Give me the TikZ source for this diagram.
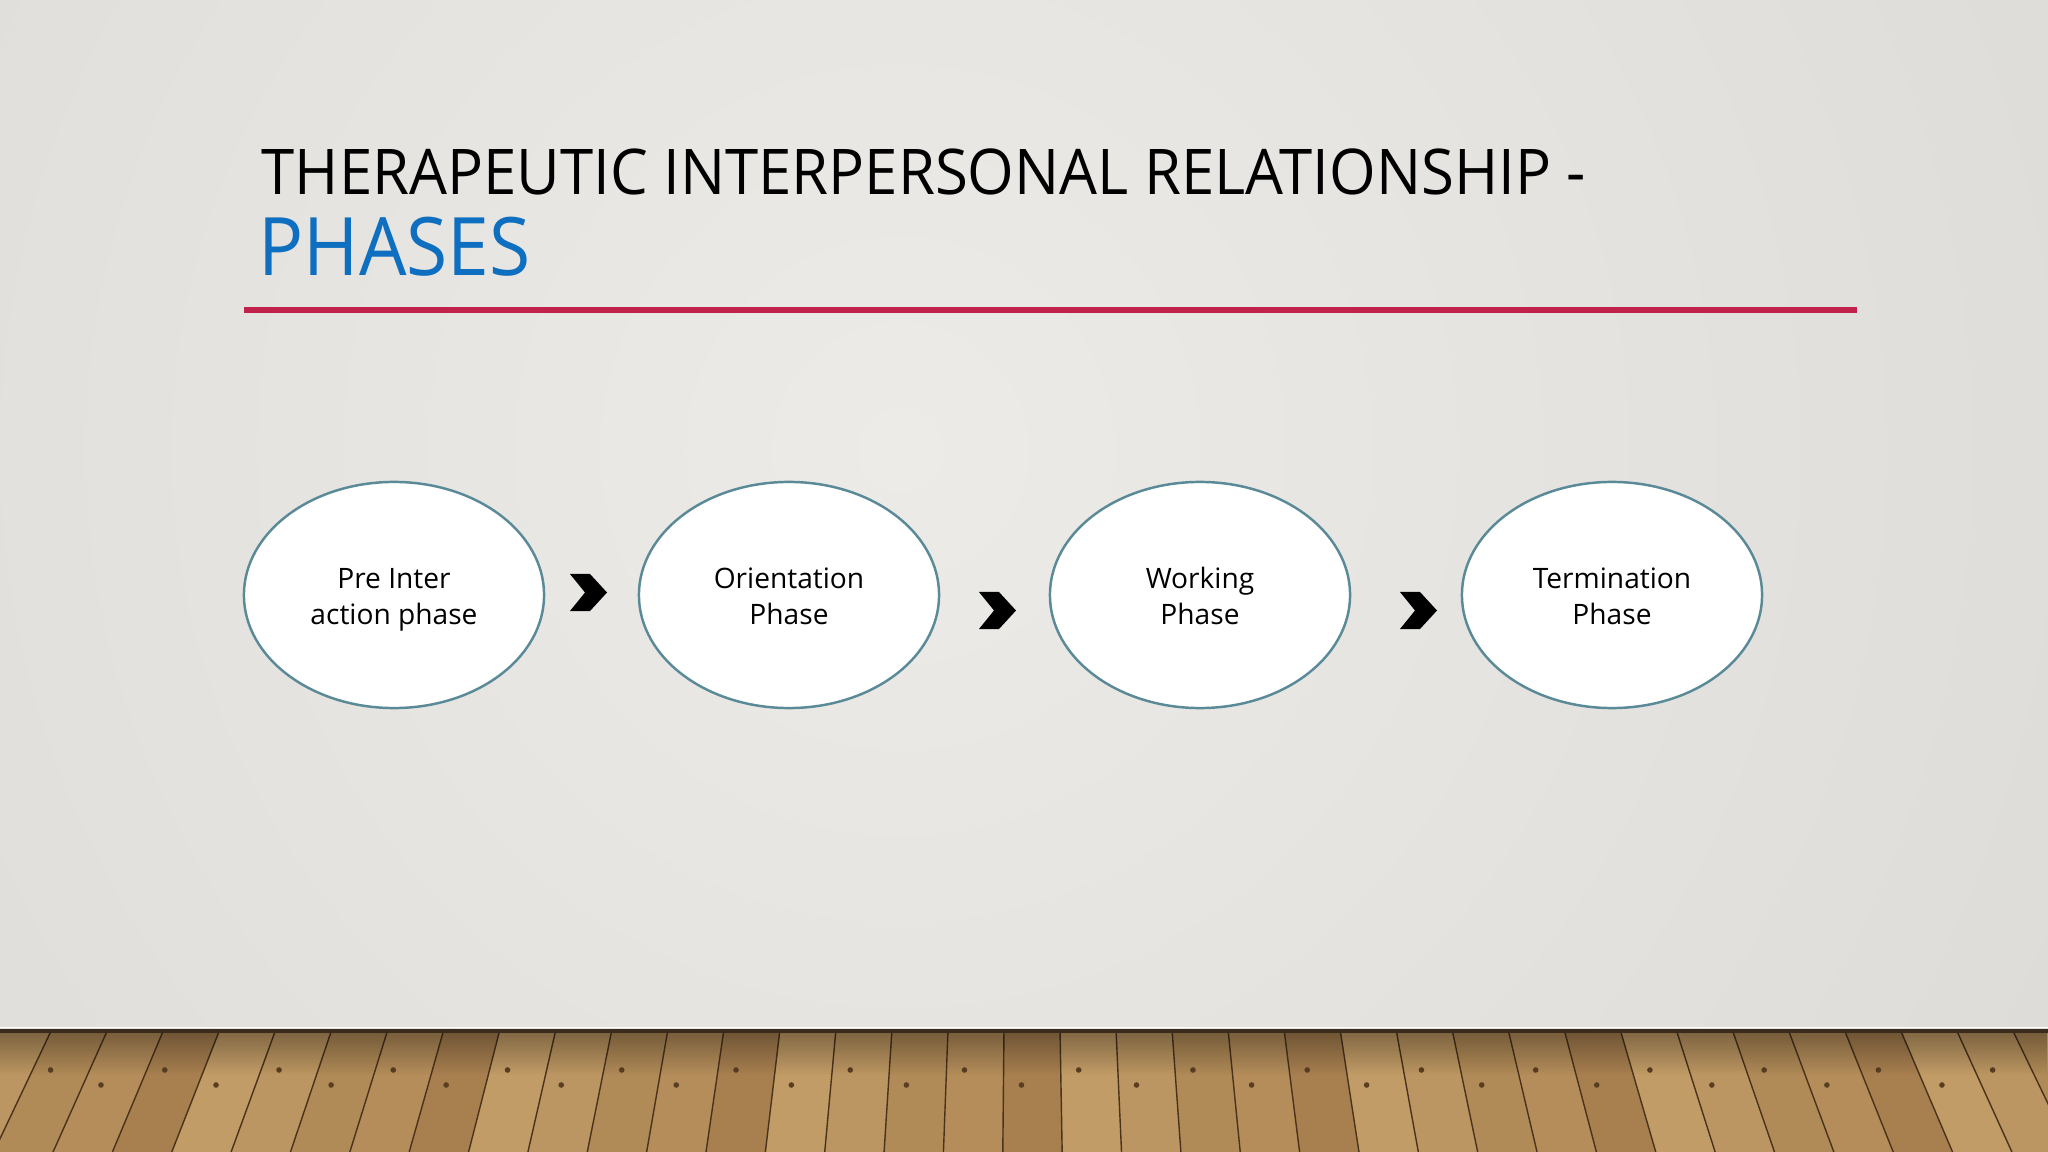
\documentclass[tikz,border=0pt]{standalone}
\usepackage{fontspec}
\setmainfont{Open Sans}
\newfontfamily\titlefont[FakeStretch=0.95]{Open Sans}
\newfontfamily\phasefont[FakeStretch=0.93]{Open Sans}
\usetikzlibrary{shapes.geometric,fadings}

\definecolor{wallin}{HTML}{ECEBE8}
\definecolor{wallout}{HTML}{D2CFCA}
\definecolor{rulered}{HTML}{C0224B}
\definecolor{phaseblue}{HTML}{0E6EBF}
\definecolor{ellborder}{HTML}{5A8A98}
\definecolor{wood0}{HTML}{C29C66}
\definecolor{wood1}{HTML}{B08A57}
\definecolor{wood2}{HTML}{A88050}
\definecolor{wood3}{HTML}{BC9662}
\definecolor{wood4}{HTML}{B48D5A}
\definecolor{seamc}{HTML}{4A331C}
\definecolor{nailc}{HTML}{5A3E22}
\definecolor{shadowc}{HTML}{3B2B1C}

\newcommand\twolines[2]{\strut#1\\\strut#2}

\tikzset{
  phase/.style={ellipse, draw=ellborder, line width=0.7pt, fill=white,
    minimum width=3cm, minimum height=2.26cm, inner sep=0pt},
  lbl/.style={align=center, inner sep=0pt, text=black,
    font=\fontsize{8pt}{10pt}\selectfont},
  chev/.pic={\fill[black] (0,0) -- (20,0) -- (37,18.5) -- (20,37) -- (0,37) -- (15,18.5) -- cycle;},
  seam/.style={draw=seamc, line width=0.4pt}
}

\begin{document}
\begin{tikzpicture}[x=0.01cm,y=-0.01cm]
\useasboundingbox (0,0) rectangle (2048,1152);
% wall
\begin{scope}
\clip (0,0) rectangle (2048,1030);
\shade[inner color=wallin, outer color=wallout] (900,450) circle (24cm);
\end{scope}
% floor
\begin{scope}
\clip (0,1029) rectangle (2048,1152);
\fill[wood1] (0,1029) rectangle (2048,1152);
\foreach \i in {0,...,38}{
  \pgfmathsetmacro\xa{\i*56-60}
  \pgfmathsetmacro\xb{\xa+56}
  \pgfmathsetmacro\xab{1024+(\xa-1024)*1.06}
  \pgfmathsetmacro\xbb{1024+(\xb-1024)*1.06}
  \pgfmathtruncatemacro\c{mod(\i*3,5)}
  \fill[wood\c] (\xa,1029) -- (\xb,1029) -- (\xbb,1152) -- (\xab,1152) -- cycle;
  \draw[seam] (\xa,1029) -- (\xab,1152);
  \pgfmathtruncatemacro\pp{mod(\i,2)}
  \pgfmathsetmacro\ny{\pp==0 ? 1070 : 1085}
  \pgfmathsetmacro\nf{(\ny-1029)/123}
  \pgfmathsetmacro\nx{\xa+18+\nf*(\xab-\xa)}
  \fill[nailc] (\nx,\ny) circle (0.028cm);
}
\fill[black, opacity=0.35, path fading=south] (0,1030) rectangle (2048,1075);
\end{scope}
\draw[white, line width=0.5pt] (0,1027.5) -- (2048,1027.5);
\fill[shadowc] (0,1029) rectangle (2048,1033);

% title
\node[anchor=base west, inner sep=0pt, text=black,
  font=\titlefont\fontsize{17.93pt}{20pt}\selectfont] (title) at (261,195)
  {THERAPEUTIC INTERPERSONAL RELATIONSHIP -};
\node[anchor=base west, inner sep=0pt, text=phaseblue,
  font=\phasefont\fontsize{22.94pt}{24pt}\selectfont] (phases) at (258,275.6) {PHASES};
\coordinate (rl) at (244,310);
\coordinate (rr) at (1857,310);
\draw[rulered, line width=0.06cm] (rl) -- (rr);

% phases
\node[phase] (p1) at (394,595) {};
\node[phase] (p2) at (789,595) {};
\node[phase] (p3) at (1200,595) {};
\node[phase] (p4) at (1612,595) {};
\node[lbl] (t1) at ([yshift=-0.045cm]p1.center) {\twolines{Pre Inter}{action phase}};
\node[lbl] (t2) at ([yshift=-0.045cm]p2.center) {\twolines{Orientation}{Phase}};
\node[lbl] (t3) at ([yshift=-0.045cm]p3.center) {\twolines{Working}{Phase}};
\node[lbl] (t4) at ([yshift=-0.045cm]p4.center) {\twolines{Termination}{Phase}};

% chevrons
\pic (a1) at (570,574) {chev};
\pic (a2) at (979,592) {chev};
\pic (a3) at (1400,592) {chev};
\end{tikzpicture}
\end{document}
